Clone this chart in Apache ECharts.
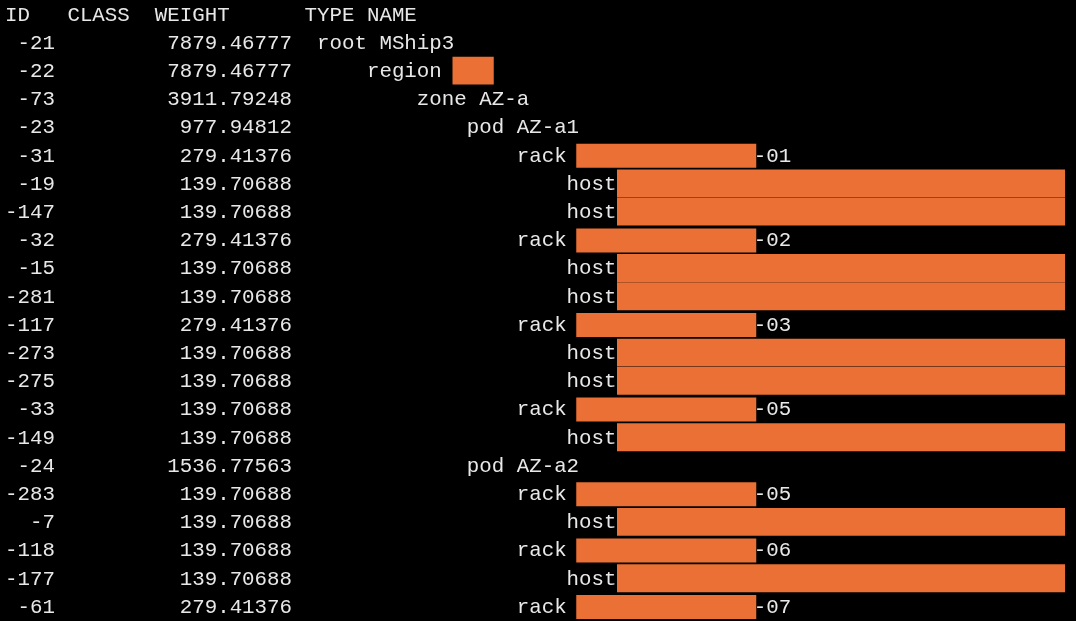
<!DOCTYPE html>
<html><head><meta charset="utf-8">
<script src="https://cdn.jsdelivr.net/npm/echarts@6/dist/echarts.min.js"></script>
<style>html,body{margin:0;background:#000}#c{width:1076px;height:621px}</style>
</head><body><div id="c"></div>
<script>
const header = "ID   CLASS  WEIGHT      TYPE NAME";
const ids = ["-21","-22","-73","-23","-31","-19","-147","-32","-15","-281","-117","-273","-275","-33","-149","-24","-283","-7","-118","-177","-61"];
const weights = ["7879.46777","7879.46777","3911.79248","977.94812","279.41376","139.70688","139.70688","279.41376","139.70688","139.70688","279.41376","139.70688","139.70688","139.70688","139.70688","1536.77563","139.70688","139.70688","139.70688","139.70688","279.41376"];
const levels = [0,1,2,3,4,5,5,4,5,5,4,5,5,4,5,3,4,5,4,5,4];
const types = ["root","region","zone","pod","rack","host","host","rack","host","host","rack","host","host","rack","host","pod","rack","host","rack","host","rack"];
const names = ["MShip3","","AZ-a","AZ-a1","              -01","","","              -02","","","              -03","","","              -05","","AZ-a2","              -05","","              -06","","              -07"];
// redaction boxes: row, start column, end column
const boxRows  = [2, 5, 6, 7, 8, 9, 10, 11, 12, 13, 14, 15, 17, 18, 19, 20, 21];
const boxStart = [35.8, 45.7, 48.96, 48.96, 45.7, 48.96, 48.96, 45.7, 48.96, 48.96, 45.7, 48.96, 45.7, 48.96, 45.7, 48.96, 45.7];
const boxEnd   = [39.1, 60.1, 84.8, 84.8, 60.1, 84.8, 84.8, 60.1, 84.8, 84.8, 60.1, 84.8, 60.1, 84.8, 60.1, 84.8, 60.1];

function pad(s,n){return " ".repeat(Math.max(0,n-s.length))+s;}
const lines=[header];
ids.forEach((id,i)=>{
  let l = pad(id,4) + " ".repeat(9) + pad(weights[i],10) + "  " + " ".repeat(4*levels[i]) + types[i] + " " + names[i];
  lines.push(l);
});
const lineData = lines.map((t,i)=>[0,i,t]);
const boxType = boxRows.map(r=>types[r-1]);
const boxData = boxRows.map((r,i)=>[boxStart[i],boxEnd[i],r,boxType[i]==='rack'?1:0]);

const chart = echarts.init(document.getElementById('c'));
chart.setOption({
  backgroundColor:'#000',
  animation:false,
  grid:{left:0,right:0,top:0,bottom:0},
  xAxis:{type:'value',min:-0.4,max:-0.4+1076/12.5,show:false},
  yAxis:{type:'value',inverse:true,min:-0.5,max:-0.5+621/28.2,show:false},
  series:[
    {type:'custom',data:boxData,silent:true,z:3,
     renderItem:(p,api)=>{
       const rack=api.value(3)===1;
       const a=api.coord([api.value(0),api.value(2)-(rack?0.4:0.49)]);
       const b=api.coord([api.value(1),api.value(2)+(rack?0.45:0.5)]);
       return {type:'rect',shape:{x:a[0],y:a[1],width:b[0]-a[0],height:b[1]-a[1]},style:{fill:'#EB7035'}};
     }},
    {type:'custom',data:lineData,silent:true,z:2,
     renderItem:(p,api)=>{
       const pt=api.coord([api.value(0),api.value(1)]);
       return {type:'text',x:pt[0],y:pt[1]+1,style:{text:lineData[p.dataIndex][2],fill:'#e8e8e8',
         font:'20.8px "Liberation Mono", "DejaVu Sans Mono", monospace',textVerticalAlign:'middle',textAlign:'left'}};
     }}
  ]
});
</script></body></html>
